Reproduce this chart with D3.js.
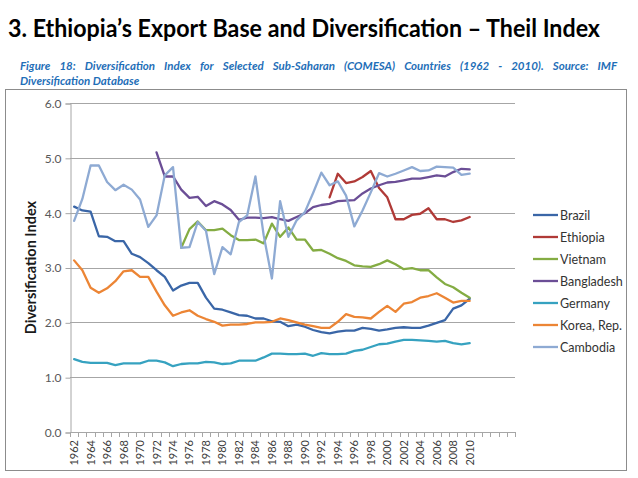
<!DOCTYPE html>
<html>
<head>
<meta charset="utf-8">
<script src="https://cdn.jsdelivr.net/npm/d3@7"></script>
<style>
  body { margin: 0; background: #fff; }
  svg { display: block; font-family: Lato, "Open Sans", sans-serif; }
</style>
</head>
<body>
<div id="chart"></div>
<script>
// categories (years with data) and the empty slots Excel left after 2010
var years = d3.range(1962, 2011);
var axisYears = d3.range(1962, 2016);
var yTicks = [0, 1, 2, 3, 4, 5, 6];

var brazil = [4.11, 4.04, 4.02, 3.57, 3.56, 3.48, 3.48, 3.25, 3.19, 3.08,
  2.95, 2.83, 2.58, 2.67, 2.72, 2.72, 2.45, 2.25, 2.23, 2.18,
  2.13, 2.12, 2.07, 2.07, 2.02, 2.01, 1.93, 1.96, 1.92, 1.86,
  1.82, 1.80, 1.83, 1.85, 1.85, 1.90, 1.88, 1.85, 1.87, 1.90,
  1.91, 1.90, 1.90, 1.94, 1.99, 2.04, 2.25, 2.31, 2.43];
var ethiopia = [null, null, null, null, null, null, null, null, null, null,
  null, null, null, null, null, null, null, null, null, null,
  null, null, null, null, null, null, null, null, null, null,
  null, 4.28, 4.71, 4.54, 4.57, 4.65, 4.76, 4.45, 4.28, 3.88,
  3.88, 3.96, 3.98, 4.08, 3.88, 3.88, 3.83, 3.86, 3.92];
var vietnam = [null, null, null, null, null, null, null, null, null, null,
  null, null, null, 3.36, 3.70, 3.84, 3.68, 3.68, 3.71, 3.59,
  3.50, 3.50, 3.51, 3.44, 3.80, 3.56, 3.73, 3.51, 3.51, 3.31,
  3.32, 3.25, 3.17, 3.12, 3.04, 3.02, 3.01, 3.06, 3.13, 3.06,
  2.97, 2.99, 2.95, 2.95, 2.82, 2.70, 2.64, 2.54, 2.45];
var bangladesh = [null, null, null, null, null, null, null, null, null, null,
  5.10, 4.66, 4.66, 4.42, 4.27, 4.29, 4.12, 4.21, 4.15, 4.05,
  3.87, 3.91, 3.91, 3.90, 3.92, 3.88, 3.85, 3.92, 3.99, 4.10,
  4.14, 4.16, 4.21, 4.22, 4.23, 4.35, 4.44, 4.50, 4.55, 4.56,
  4.59, 4.62, 4.62, 4.65, 4.68, 4.66, 4.74, 4.80, 4.79];
var germany = [1.33, 1.28, 1.26, 1.26, 1.26, 1.22, 1.25, 1.25, 1.25, 1.30,
  1.30, 1.27, 1.20, 1.24, 1.25, 1.25, 1.28, 1.27, 1.24, 1.25,
  1.30, 1.30, 1.30, 1.36, 1.43, 1.43, 1.42, 1.42, 1.43, 1.39,
  1.44, 1.42, 1.42, 1.43, 1.48, 1.50, 1.55, 1.60, 1.61, 1.65,
  1.68, 1.68, 1.67, 1.66, 1.65, 1.66, 1.62, 1.60, 1.62];
var korea = [3.13, 2.95, 2.63, 2.54, 2.62, 2.75, 2.93, 2.95, 2.83, 2.83,
  2.56, 2.31, 2.12, 2.18, 2.22, 2.12, 2.06, 2.01, 1.94, 1.96,
  1.96, 1.97, 2.00, 2.00, 2.01, 2.07, 2.04, 2.00, 1.96, 1.93,
  1.90, 1.90, 2.01, 2.15, 2.10, 2.09, 2.07, 2.19, 2.30, 2.19,
  2.34, 2.37, 2.45, 2.48, 2.53, 2.45, 2.36, 2.39, 2.39];
var cambodia = [3.85, 4.25, 4.86, 4.86, 4.56, 4.41, 4.51, 4.42, 4.24, 3.74,
  3.95, 4.68, 4.83, 3.36, 3.37, 3.83, 3.67, 2.88, 3.37, 3.24,
  3.83, 3.95, 4.66, 3.59, 2.80, 4.21, 3.56, 3.86, 4.01, 4.36,
  4.73, 4.50, 4.57, 4.31, 3.75, 4.04, 4.37, 4.72, 4.66, 4.71,
  4.77, 4.83, 4.76, 4.77, 4.84, 4.83, 4.82, 4.69, 4.71];

var seriesNames = ["Brazil", "Ethiopia", "Vietnam", "Bangladesh", "Germany", "Korea, Rep.", "Cambodia"];
var seriesValues = [brazil, ethiopia, vietnam, bangladesh, germany, korea, cambodia];
var seriesColors = ["#3a66a7", "#b03a37", "#84ac43", "#6b4e96", "#36a2c0", "#ec8535", "#8eaad3"];

var width = 638, height = 478;
var plot = { left: 70, right: 515, top: 103, bottom: 432 };

var svg = d3.select("#chart").append("svg")
  .attr("width", width)
  .attr("height", height);

// heading
svg.append("text")
  .attr("x", 8)
  .attr("y", 37)
  .attr("font-family", "Lato, 'Open Sans', sans-serif")
  .attr("font-weight", "bold")
  .attr("font-size", 24)
  .attr("fill", "#000")
  .attr("textLength", 592)
  .attr("lengthAdjust", "spacingAndGlyphs")
  .text("3. Ethiopia\u2019s Export Base and Diversification \u2013 Theil Index");

// justified caption, line 1
var captionWords = "Figure 18: Diversification Index for Selected Sub-Saharan (COMESA) Countries (1962 - 2010). Source: IMF".split(" ");
var capLeft = 20, capRight = 617;
var capG = svg.append("g")
  .attr("font-size", 11.5)
  .attr("font-weight", "bold")
  .attr("font-style", "italic")
  .attr("fill", "#1f6fb8");
var wordNodes = capG.selectAll("text.w")
  .data(captionWords)
  .enter()
  .append("text")
  .attr("class", "w")
  .attr("y", 70)
  .text(function (d) { return d; });
var widths = [];
wordNodes.each(function () { widths.push(this.getComputedTextLength()); });
var gap = (capRight - capLeft - d3.sum(widths)) / (captionWords.length - 1);
var cx = capLeft;
wordNodes.attr("x", function (d, i) {
  var x = cx;
  cx += widths[i] + gap;
  return x;
});
capG.append("text")
  .attr("x", capLeft)
  .attr("y", 84.5)
  .text("Diversification Database");

// chart frame
svg.append("rect")
  .attr("x", 5.5)
  .attr("y", 89.5)
  .attr("width", 621)
  .attr("height", 381)
  .attr("fill", "none")
  .attr("stroke", "#8c8c8c")
  .attr("stroke-width", 1);

var x = d3.scaleBand()
  .domain(axisYears)
  .range([plot.left, plot.right]);

var y = d3.scaleLinear()
  .domain([0, 6])
  .range([plot.bottom, plot.top]);

// gridlines
svg.append("g")
  .selectAll("line")
  .data(yTicks.slice(1))
  .enter()
  .append("line")
  .attr("x1", plot.left)
  .attr("x2", plot.right)
  .attr("y1", function (d) { return Math.round(y(d)) + 0.5; })
  .attr("y2", function (d) { return Math.round(y(d)) + 0.5; })
  .attr("stroke", "#a6a6a6")
  .attr("stroke-width", 1);

// y axis
var yAxis = svg.append("g")
  .attr("transform", "translate(" + (plot.left + 0.5) + ",0.5)")
  .call(d3.axisLeft(y).tickValues(yTicks).tickFormat(d3.format(".1f")).tickSize(5).tickPadding(4));
yAxis.select(".domain").attr("stroke", "#a6a6a6");
yAxis.selectAll(".tick line").attr("stroke", "#a6a6a6");
yAxis.selectAll("text")
  .attr("font-family", "Lato, 'Open Sans', sans-serif")
  .attr("font-size", 12)
  .attr("fill", "#595959");

svg.append("text")
  .attr("transform", "translate(36," + (plot.top + plot.bottom) / 2 + ") rotate(-90)")
  .attr("text-anchor", "middle")
  .attr("font-weight", "bold")
  .attr("font-size", 14.5)
  .attr("fill", "#1a1a1a")
  .text("Diversification Index");

// x axis: ticks at category boundaries, labels every other year
var xg = svg.append("g").attr("class", "x-axis");
xg.append("line")
  .attr("x1", plot.left)
  .attr("x2", plot.right)
  .attr("y1", plot.bottom + 0.5)
  .attr("y2", plot.bottom + 0.5)
  .attr("stroke", "#a6a6a6");
xg.selectAll("line.tick")
  .data(axisYears.concat([null]))
  .enter()
  .append("line")
  .attr("class", "tick")
  .attr("x1", function (d, i) { return Math.round(plot.left + i * x.bandwidth()) + 0.5; })
  .attr("x2", function (d, i) { return Math.round(plot.left + i * x.bandwidth()) + 0.5; })
  .attr("y1", plot.bottom)
  .attr("y2", plot.bottom + 5)
  .attr("stroke", "#a6a6a6");
xg.selectAll("text")
  .data(years.filter(function (d) { return d % 2 === 0; }))
  .enter()
  .append("text")
  .attr("transform", function (d) {
    return "translate(" + (x(d) + x.bandwidth() / 2 + 4) + "," + (plot.bottom + 8) + ") rotate(-90)";
  })
  .attr("text-anchor", "end")
  .attr("font-size", 11)
  .attr("fill", "#404040")
  .text(function (d) { return d; });

// series lines
var line = d3.line()
  .defined(function (d) { return d != null; })
  .x(function (d, i) { return x(years[i]) + x.bandwidth() / 2; })
  .y(function (d) { return y(d); });

svg.append("g")
  .selectAll("path")
  .data(seriesValues)
  .enter()
  .append("path")
  .attr("d", line)
  .attr("fill", "none")
  .attr("stroke", function (d, i) { return seriesColors[i]; })
  .attr("stroke-width", 2.3)
  .attr("stroke-linejoin", "round")
  .attr("stroke-linecap", "round");

// legend
var legend = svg.append("g")
  .selectAll("g")
  .data(seriesNames)
  .enter()
  .append("g")
  .attr("transform", function (d, i) { return "translate(533," + (215 + i * 22) + ")"; });
legend.append("line")
  .attr("x1", 0)
  .attr("x2", 25)
  .attr("stroke", function (d, i) { return seriesColors[i]; })
  .attr("stroke-width", 2.3);
legend.append("text")
  .attr("x", 27)
  .attr("y", 4.5)
  .attr("font-size", 12.5)
  .attr("fill", "#333")
  .text(function (d) { return d; });
</script>
</body>
</html>
